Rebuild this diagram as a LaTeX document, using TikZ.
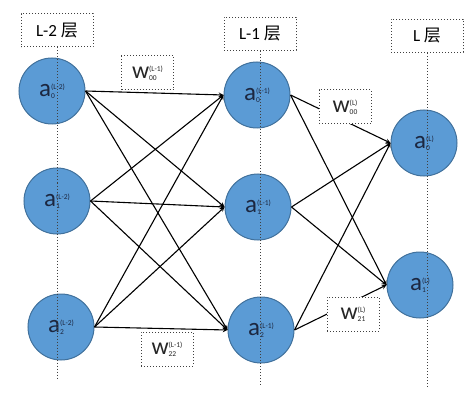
\documentclass[tikz,border=0pt]{standalone}
\usepackage{fontspec}
\setmainfont{Carlito}
\newfontfamily\cjk{Noto Sans CJK SC}
\definecolor{nodefill}{HTML}{5B9BD5}
\definecolor{nodeedge}{HTML}{41719C}
\definecolor{nodetext}{HTML}{1C2740}
% symbol with stacked super- and subscript
\newcommand{\sym}[3]{#1\raisebox{-1.5pt}{\fontsize{7.5}{8.5}\selectfont\shortstack[l]{#2\\#3}}}

\begin{document}
\begin{tikzpicture}[x=1pt,y=-1pt,
  neuron/.style={circle,draw=nodeedge,fill=nodefill,line width=1pt,
    minimum size=66pt,inner sep=0pt,text=nodetext,font=\fontsize{25}{27}\selectfont},
  tag/.style={draw=black!75,dotted,fill=white,line width=1pt,
    minimum width=72pt,minimum height=33pt,inner sep=0pt,font=\fontsize{17}{19}\selectfont},
  wbox/.style={draw=black!75,dotted,fill=white,line width=1pt,
    minimum width=52pt,minimum height=34pt,inner sep=0pt,text=black!85,
    font=\fontsize{24}{26}\selectfont},
  guide/.style={draw=black!75,dotted,line width=1pt},
  link/.style={-stealth,line width=1.1pt}]
\useasboundingbox (0,0) rectangle (474,401);

% layer tags
\node[tag] (l2) at (57,30.5) {L-2 {\cjk 层}};
\node[tag] (l1) at (260,34) {L-1 {\cjk 层}};
\node[tag] (l0) at (427,36) {L {\cjk 层}};

% neurons
\node[neuron] (p0) at (52,91) {\sym{a}{(L-2)}{0}};
\node[neuron] (p1) at (57,201) {\sym{a}{(L-2)}{1}};
\node[neuron] (p2) at (61,327) {\sym{a}{(L-2)}{2}};
\node[neuron] (h0) at (257,95) {\sym{a}{(L-1)}{0}};
\node[neuron] (h1) at (258,207) {\sym{a}{(L-1)}{1}};
\node[neuron] (h2) at (261,330) {\sym{a}{(L-1)}{2}};
\node[neuron] (o0) at (424,143) {\sym{a}{(L)}{0}};
\node[neuron] (o1) at (420,285) {\sym{a}{(L)}{1}};

% guide lines
\draw[guide] (l2.south) -- (l2.south |- 0,378);
\draw[guide] (l1.south) -- (l1.south |- 0,385);
\draw[guide] (l0.south) -- (l0.south |- 0,387);

% L-2 -> L-1
\draw[link] (p0.east) -- (h0.west);
\draw[link] (p0.east) -- (h1.west);
\draw[link] (p0.east) -- (h2.west);
\draw[link] (p1.east) -- (h0.west);
\draw[link] (p1.east) -- (h1.west);
\draw[link] (p1.east) -- (h2.west);
\draw[link] (p2.east) -- (h0.west);
\draw[link] (p2.east) -- (h1.west);
\draw[link] (p2.east) -- (h2.west);

% L-1 -> L
\draw[link] (h0.east) -- (o0.west);
\draw[link] (h0.east) -- (o1.west);
\draw[link] (h1.east) -- (o0.west);
\draw[link] (h1.east) -- (o1.west);
\draw[link] (h2.east) -- (o0.west);
\draw[link] (h2.east) -- (o1.west);

% weights
\node[wbox] (w100) at (147.5,73) {\sym{w}{(L-1)}{00}};
\node[wbox] (w122) at (167,349) {\sym{w}{(L-1)}{22}};
\node[wbox] (w000) at (345,107) {\sym{w}{(L)}{00}};
\node[wbox] (w021) at (353,314) {\sym{w}{(L)}{21}};
\end{tikzpicture}
\end{document}
